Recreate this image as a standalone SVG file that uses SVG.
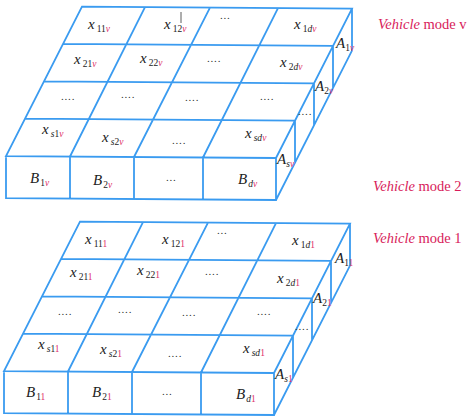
<svg xmlns="http://www.w3.org/2000/svg" width="474" height="418" viewBox="0 0 474 418">
<style>
.g{fill:none;stroke:#3a9bf0;stroke-width:1.8;stroke-linejoin:miter}
.m{font-family:"Liberation Serif","DejaVu Serif",serif;font-style:italic;font-size:15px;fill:#222}
.s{font-size:9.5px;font-style:normal}
.i{font-style:italic}
.p{fill:#e0306a}
.d{font-family:"Liberation Serif","DejaVu Serif",serif;font-size:11px;fill:#333;letter-spacing:0.8px}
.t{font-family:"Liberation Serif","DejaVu Serif",serif;font-size:14.5px;fill:#d81b5a}
</style>
<defs>
<path id="box" class="g" d="M82,6 L352,6 L276,156 L6,156 Z M63,43.5 H333 M44,81 H314 M25,118.5 H295 M145,6 L70,156 M210,6 L134,156 M278,6 L203,156 M6,156 V198 H276 V156 M70,156 V198 M134,156 V198 M203,156 V198 M276,198 L352,48 V6 M333,43.5 V85.5 M314,81 V123 M295,118.5 V160.5"/>
</defs>
<rect width="474" height="418" fill="#fff"/>
<g id="connectors">
<use href="#box" transform="skewY(0.42)"/>
<use href="#box" transform="translate(-2,215) skewY(0.42)"/>
</g>
<g id="mode-v">
<text class="m" x="88" y="29">x<tspan class="s" dx="2" dy="3">11</tspan><tspan class="s i p">v</tspan></text>
<text class="m" x="164" y="29">x<tspan class="s" dx="2" dy="3">12</tspan><tspan class="s i p">v</tspan></text>
<line x1="181" y1="12" x2="181" y2="23" stroke="#333" stroke-width="0.8"/>
<text class="d" x="220" y="19">...</text>
<text class="m" x="294" y="29">x<tspan class="s" dx="2" dy="3">1</tspan><tspan class="s i">d</tspan><tspan class="s i p">v</tspan></text>
<text class="m" x="74" y="64">x<tspan class="s" dx="2" dy="3">21</tspan><tspan class="s i p">v</tspan></text>
<text class="m" x="140" y="63">x<tspan class="s" dx="2" dy="3">22</tspan><tspan class="s i p">v</tspan></text>
<text class="d" x="207" y="62">....</text>
<text class="m" x="280" y="67">x<tspan class="s" dx="2" dy="3">2</tspan><tspan class="s i">d</tspan><tspan class="s i p">v</tspan></text>
<text class="d" x="61" y="100">....</text>
<text class="d" x="121" y="98">....</text>
<text class="d" x="185" y="101">....</text>
<text class="d" x="260" y="100">....</text>
<text class="m" x="42" y="134">x<tspan class="s i" dx="2" dy="3">s</tspan><tspan class="s">1</tspan><tspan class="s i p">v</tspan></text>
<text class="m" x="102" y="142">x<tspan class="s i" dx="2" dy="3">s</tspan><tspan class="s">2</tspan><tspan class="s i p">v</tspan></text>
<text class="d" x="172" y="144">....</text>
<text class="m" x="245" y="138">x<tspan class="s i" dx="2" dy="3">sd</tspan><tspan class="s i p">v</tspan></text>
<text class="m" x="30" y="183">B<tspan class="s" dx="1" dy="3">1</tspan><tspan class="s i p">v</tspan></text>
<text class="m" x="93" y="185">B<tspan class="s" dx="1" dy="3">2</tspan><tspan class="s i p">v</tspan></text>
<text class="d" x="166" y="181">...</text>
<text class="m" x="238" y="184">B<tspan class="s i" dx="1" dy="3">d</tspan><tspan class="s i p">v</tspan></text>
<text class="m" x="336" y="48">A<tspan class="s" dy="3">1</tspan><tspan class="s i p">v</tspan></text>
<text class="m" x="315" y="91">A<tspan class="s" dy="3">2</tspan><tspan class="s i p">v</tspan></text>
<text class="d" x="298" y="115">....</text>
<text class="m" x="277" y="164">A<tspan class="s i" dy="3">s</tspan><tspan class="s i p">v</tspan></text>
<text class="t" x="378" y="29"><tspan class="i">Vehicle</tspan> mode v</text>
<text class="t" x="373" y="191"><tspan class="i">Vehicle</tspan> mode 2</text>
</g>
<g id="mode-1">
<text class="m" x="85" y="244">x<tspan class="s" dx="2" dy="3">11</tspan><tspan class="s p">1</tspan></text>
<text class="m" x="162" y="244">x<tspan class="s" dx="2" dy="3">12</tspan><tspan class="s p">1</tspan></text>
<text class="d" x="217" y="234">...</text>
<text class="m" x="292" y="245">x<tspan class="s" dx="2" dy="3">1</tspan><tspan class="s i">d</tspan><tspan class="s p">1</tspan></text>
<text class="m" x="70" y="277">x<tspan class="s" dx="2" dy="3">21</tspan><tspan class="s p">1</tspan></text>
<text class="m" x="137" y="275">x<tspan class="s" dx="2" dy="3">22</tspan><tspan class="s p">1</tspan></text>
<text class="d" x="205" y="275">....</text>
<text class="m" x="277" y="283">x<tspan class="s" dx="2" dy="3">2</tspan><tspan class="s i">d</tspan><tspan class="s p">1</tspan></text>
<text class="d" x="58" y="315">....</text>
<text class="d" x="118" y="313">....</text>
<text class="d" x="182" y="316">....</text>
<text class="d" x="257" y="315">....</text>
<text class="m" x="38" y="349">x<tspan class="s i" dx="2" dy="3">s</tspan><tspan class="s">1</tspan><tspan class="s p">1</tspan></text>
<text class="m" x="100" y="354">x<tspan class="s i" dx="2" dy="3">s</tspan><tspan class="s">2</tspan><tspan class="s p">1</tspan></text>
<text class="d" x="168" y="357">....</text>
<text class="m" x="243" y="353">x<tspan class="s i" dx="2" dy="3">sd</tspan><tspan class="s p">1</tspan></text>
<text class="m" x="26" y="397">B<tspan class="s" dx="1" dy="3">1</tspan><tspan class="s p">1</tspan></text>
<text class="m" x="92" y="397">B<tspan class="s" dx="1" dy="3">2</tspan><tspan class="s p">1</tspan></text>
<text class="d" x="162" y="395">...</text>
<text class="m" x="236" y="399">B<tspan class="s i" dx="1" dy="3">d</tspan><tspan class="s p">1</tspan></text>
<text class="m" x="335" y="263">A<tspan class="s" dy="3">1</tspan><tspan class="s p">1</tspan></text>
<text class="m" x="313" y="303">A<tspan class="s" dy="3">2</tspan><tspan class="s p">1</tspan></text>
<text class="d" x="295" y="330">....</text>
<text class="m" x="275" y="379">A<tspan class="s i" dy="3">s</tspan><tspan class="s p">1</tspan></text>
<text class="t" x="373" y="243"><tspan class="i">Vehicle</tspan> mode 1</text>
</g>
</svg>
